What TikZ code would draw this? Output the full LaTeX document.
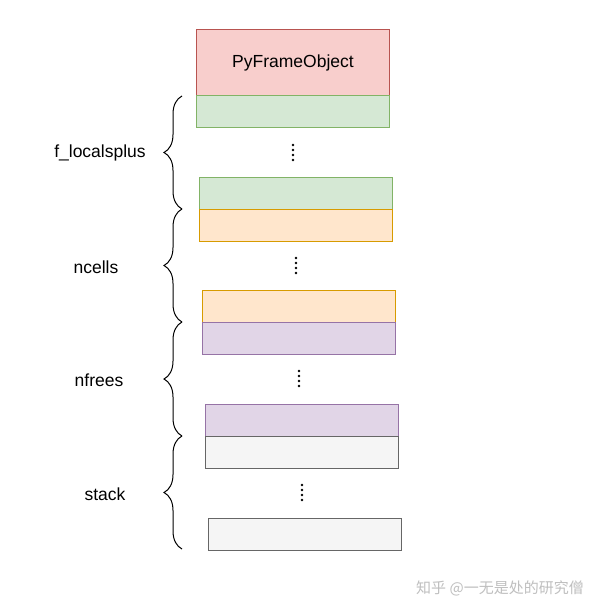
\documentclass[tikz,border=0pt]{standalone}
\usepackage{fontspec}
\setmainfont{Liberation Sans}
\newfontfamily\cjkfont{Noto Sans CJK SC}
\usetikzlibrary{decorations.pathreplacing}
\definecolor{redF}{HTML}{F8CECC}\definecolor{redS}{HTML}{B85450}
\definecolor{grnF}{HTML}{D5E8D4}\definecolor{grnS}{HTML}{82B366}
\definecolor{orgF}{HTML}{FFE6CC}\definecolor{orgS}{HTML}{D79B00}
\definecolor{purF}{HTML}{E1D5E7}\definecolor{purS}{HTML}{9673A6}
\definecolor{gryF}{HTML}{F5F5F5}\definecolor{gryS}{HTML}{666666}
\begin{document}
\begin{tikzpicture}[x=1pt,y={(0pt,-1pt)},
  cell/.style={draw, line width=1pt, minimum width=193pt, minimum height=32pt, inner sep=0pt, anchor=north west},
  redc/.style={cell, fill=redF, draw=redS},
  grnc/.style={cell, fill=grnF, draw=grnS},
  orgc/.style={cell, fill=orgF, draw=orgS},
  purc/.style={cell, fill=purF, draw=purS},
  gryc/.style={cell, fill=gryF, draw=gryS},
  lbl/.style={font=\fontsize{17.5}{20}\selectfont, inner sep=0pt},
  bracepath/.style={draw, line width=1pt, decorate, decoration={brace, amplitude=18pt}},
  vdot/.style={fill=black, circle, inner sep=0pt, minimum size=2.6pt}]
\useasboundingbox (0,0) rectangle (600,610);
\fill[white] (0,0) rectangle (600,610);
% cells
\node[redc, minimum height=66pt, font=\fontsize{17.5}{20}\selectfont] (pfo) at (196,29) {PyFrameObject};
\node[grnc] (g1) at (196,95) {};
\node[grnc] (g2) at (199,177) {};
\node[orgc] (o1) at (199,209) {};
\node[orgc] (o2) at (202,290) {};
\node[purc] (p1) at (202,322) {};
\node[purc] (p2) at (205,404) {};
\node[gryc] (s1) at (205,436) {};
\node[gryc] (s2) at (208,518) {};
% vertical dots
\foreach \x/\y in {293/145, 296/258, 299/371, 302/485}{
  \foreach \k in {0,1,2,3}{
    \node[vdot] at (\x,\y+5*\k) {};
  }
}
% brace end points
\coordinate (b0) at (182,96);
\coordinate (b1) at (182,209);
\coordinate (b2) at (182,322);
\coordinate (b3) at (182,436);
\coordinate (b4) at (182,549);
\path[bracepath] (b1) -- (b0);
\path[bracepath] (b2) -- (b1);
\path[bracepath] (b3) -- (b2);
\path[bracepath] (b4) -- (b3);
% labels
\node[lbl] (l1) at (100,153) {f\_localsplus};
\node[lbl] (l2) at (96,267) {ncells};
\node[lbl] (l3) at (99,380) {nfrees};
\node[lbl] (l4) at (105,494) {stack};
% watermark
\node[text=black!25, font=\cjkfont\fontsize{15}{18}\selectfont, inner sep=0pt] (wm) at (500,588) {知乎 @一无是处的研究僧};
\end{tikzpicture}
\end{document}
